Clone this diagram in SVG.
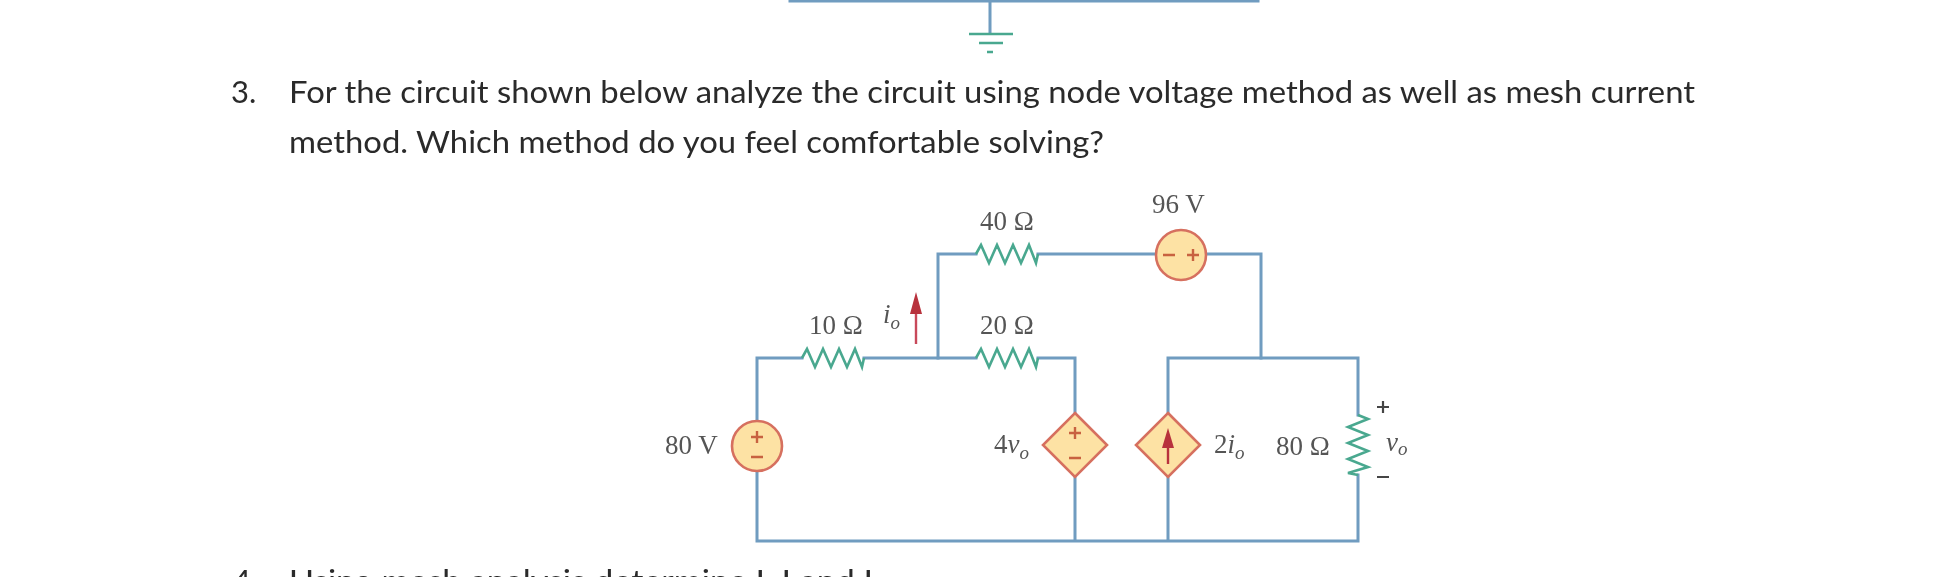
<svg xmlns="http://www.w3.org/2000/svg" width="1959" height="577" viewBox="0 0 1959 577">
<style>
.doc{font-family:"Lato","Liberation Sans",sans-serif;font-size:31px;fill:#2a2a2a}
.lbl{font-family:"Liberation Serif",serif;font-size:27px;fill:#555}
.it{font-style:italic}
.sub{font-size:19px;font-style:italic}
.wire{fill:none;stroke:#6f9cc0;stroke-width:3;stroke-linecap:square;stroke-linejoin:miter}
.res{fill:none;stroke:#4aa88f;stroke-width:2.6;stroke-linejoin:miter}
.src{fill:#fde2a4;stroke:#d6705f;stroke-width:2.6}
.mark{fill:none;stroke:#c8623f;stroke-width:2.4}
.pm{fill:none;stroke:#444;stroke-width:2.2}
.gnd{fill:none;stroke:#4aa88f;stroke-width:2.6}
.red{fill:#b8323c;stroke:none}
.redl{fill:none;stroke:#c8485a;stroke-width:2.4}
</style>
<defs>
<filter id="soft" x="-5%" y="-5%" width="110%" height="110%"><feGaussianBlur stdDeviation="0.7"/></filter>
<path id="rh" d="M0 0L5 -9L13 9L21 -9L29 9L37 -9L45 9L53 -9L60 9L62 0"/>
<path id="rv" d="M0 0L10 4L-10 12L10 20L-10 28L10 36L-10 44L10 52L-10 58L0 60"/>
</defs>
<rect width="1959" height="577" fill="#fff"/>
<g filter="url(#soft)">
<g id="connectors">
<path class="wire" d="M790 1H1258M990 1V33"/>
<path class="wire" d="M757 421V358H802M864 358H976M1038 358H1075V413"/>
<path class="wire" d="M757 471V541H1358V475M1075 477V541M1168 477V541"/>
<path class="wire" d="M938 358V254H976M1038 254H1156M1206 254H1261V358"/>
<path class="wire" d="M1168 413V358H1358V415"/>
</g>
<g id="ground"><path class="gnd" d="M969 34H1013M979 43H1003M987 52H993"/></g>
<g id="question-3">
<text class="doc" x="231" y="103">3.</text>
<text class="doc" x="289" y="103" textLength="1406" lengthAdjust="spacingAndGlyphs">For the circuit shown below analyze the circuit using node voltage method as well as mesh current</text>
<text class="doc" x="289" y="153" textLength="815" lengthAdjust="spacingAndGlyphs">method. Which method do you feel comfortable solving?</text>
</g>
<g id="question-4">
<text class="doc" x="233" y="592">4.</text>
<text class="doc" x="289" y="592" textLength="584" lengthAdjust="spacingAndGlyphs">Using mesh analysis determine I, I and I</text>
</g>
<g id="r10"><use class="res" href="#rh" x="802" y="358"/><text class="lbl" x="809" y="334">10 Ω</text></g>
<g id="r20"><use class="res" href="#rh" x="976" y="358"/><text class="lbl" x="980" y="334">20 Ω</text></g>
<g id="r40"><use class="res" href="#rh" x="976" y="254"/><text class="lbl" x="980" y="230">40 Ω</text></g>
<g id="r80"><use class="res" href="#rv" x="1358" y="415"/><text class="lbl" x="1276" y="455">80 Ω</text></g>
<g id="v80">
<circle class="src" cx="757" cy="446" r="25"/>
<path class="mark" d="M751 437H763M757 431V443M751 457H763"/>
<text class="lbl" x="665" y="454">80 V</text>
</g>
<g id="v96">
<circle class="src" cx="1181" cy="255" r="25"/>
<path class="mark" d="M1163 255H1175M1187 255H1199M1193 249V261"/>
<text class="lbl" x="1152" y="213">96 V</text>
</g>
<g id="dep-v">
<path class="src" d="M1075 413L1107 445L1075 477L1043 445Z"/>
<path class="mark" d="M1069 433H1081M1075 427V439M1069 458H1081"/>
<text class="lbl" x="994" y="453">4<tspan class="it">v</tspan><tspan class="sub" dy="6">o</tspan></text>
</g>
<g id="dep-i">
<path class="src" d="M1168 413L1200 445L1168 477L1136 445Z"/>
<path class="redl" d="M1168 445V464" style="stroke:#b8323c"/>
<path class="red" d="M1168 428L1174 448H1162Z"/>
<text class="lbl" x="1214" y="453">2<tspan class="it">i</tspan><tspan class="sub" dy="6">o</tspan></text>
</g>
<g id="io-arrow">
<path class="redl" d="M916 310V344"/>
<path class="red" d="M916 292L922 314H910Z"/>
<text class="lbl it" x="883" y="323">i<tspan class="sub" dy="6">o</tspan></text>
</g>
<g id="vo">
<path class="pm" d="M1377 407H1389M1383 401V413M1377 477H1389"/>
<text class="lbl it" x="1386" y="451">v<tspan class="sub" dy="4">o</tspan></text>
</g>
</g>
</svg>
